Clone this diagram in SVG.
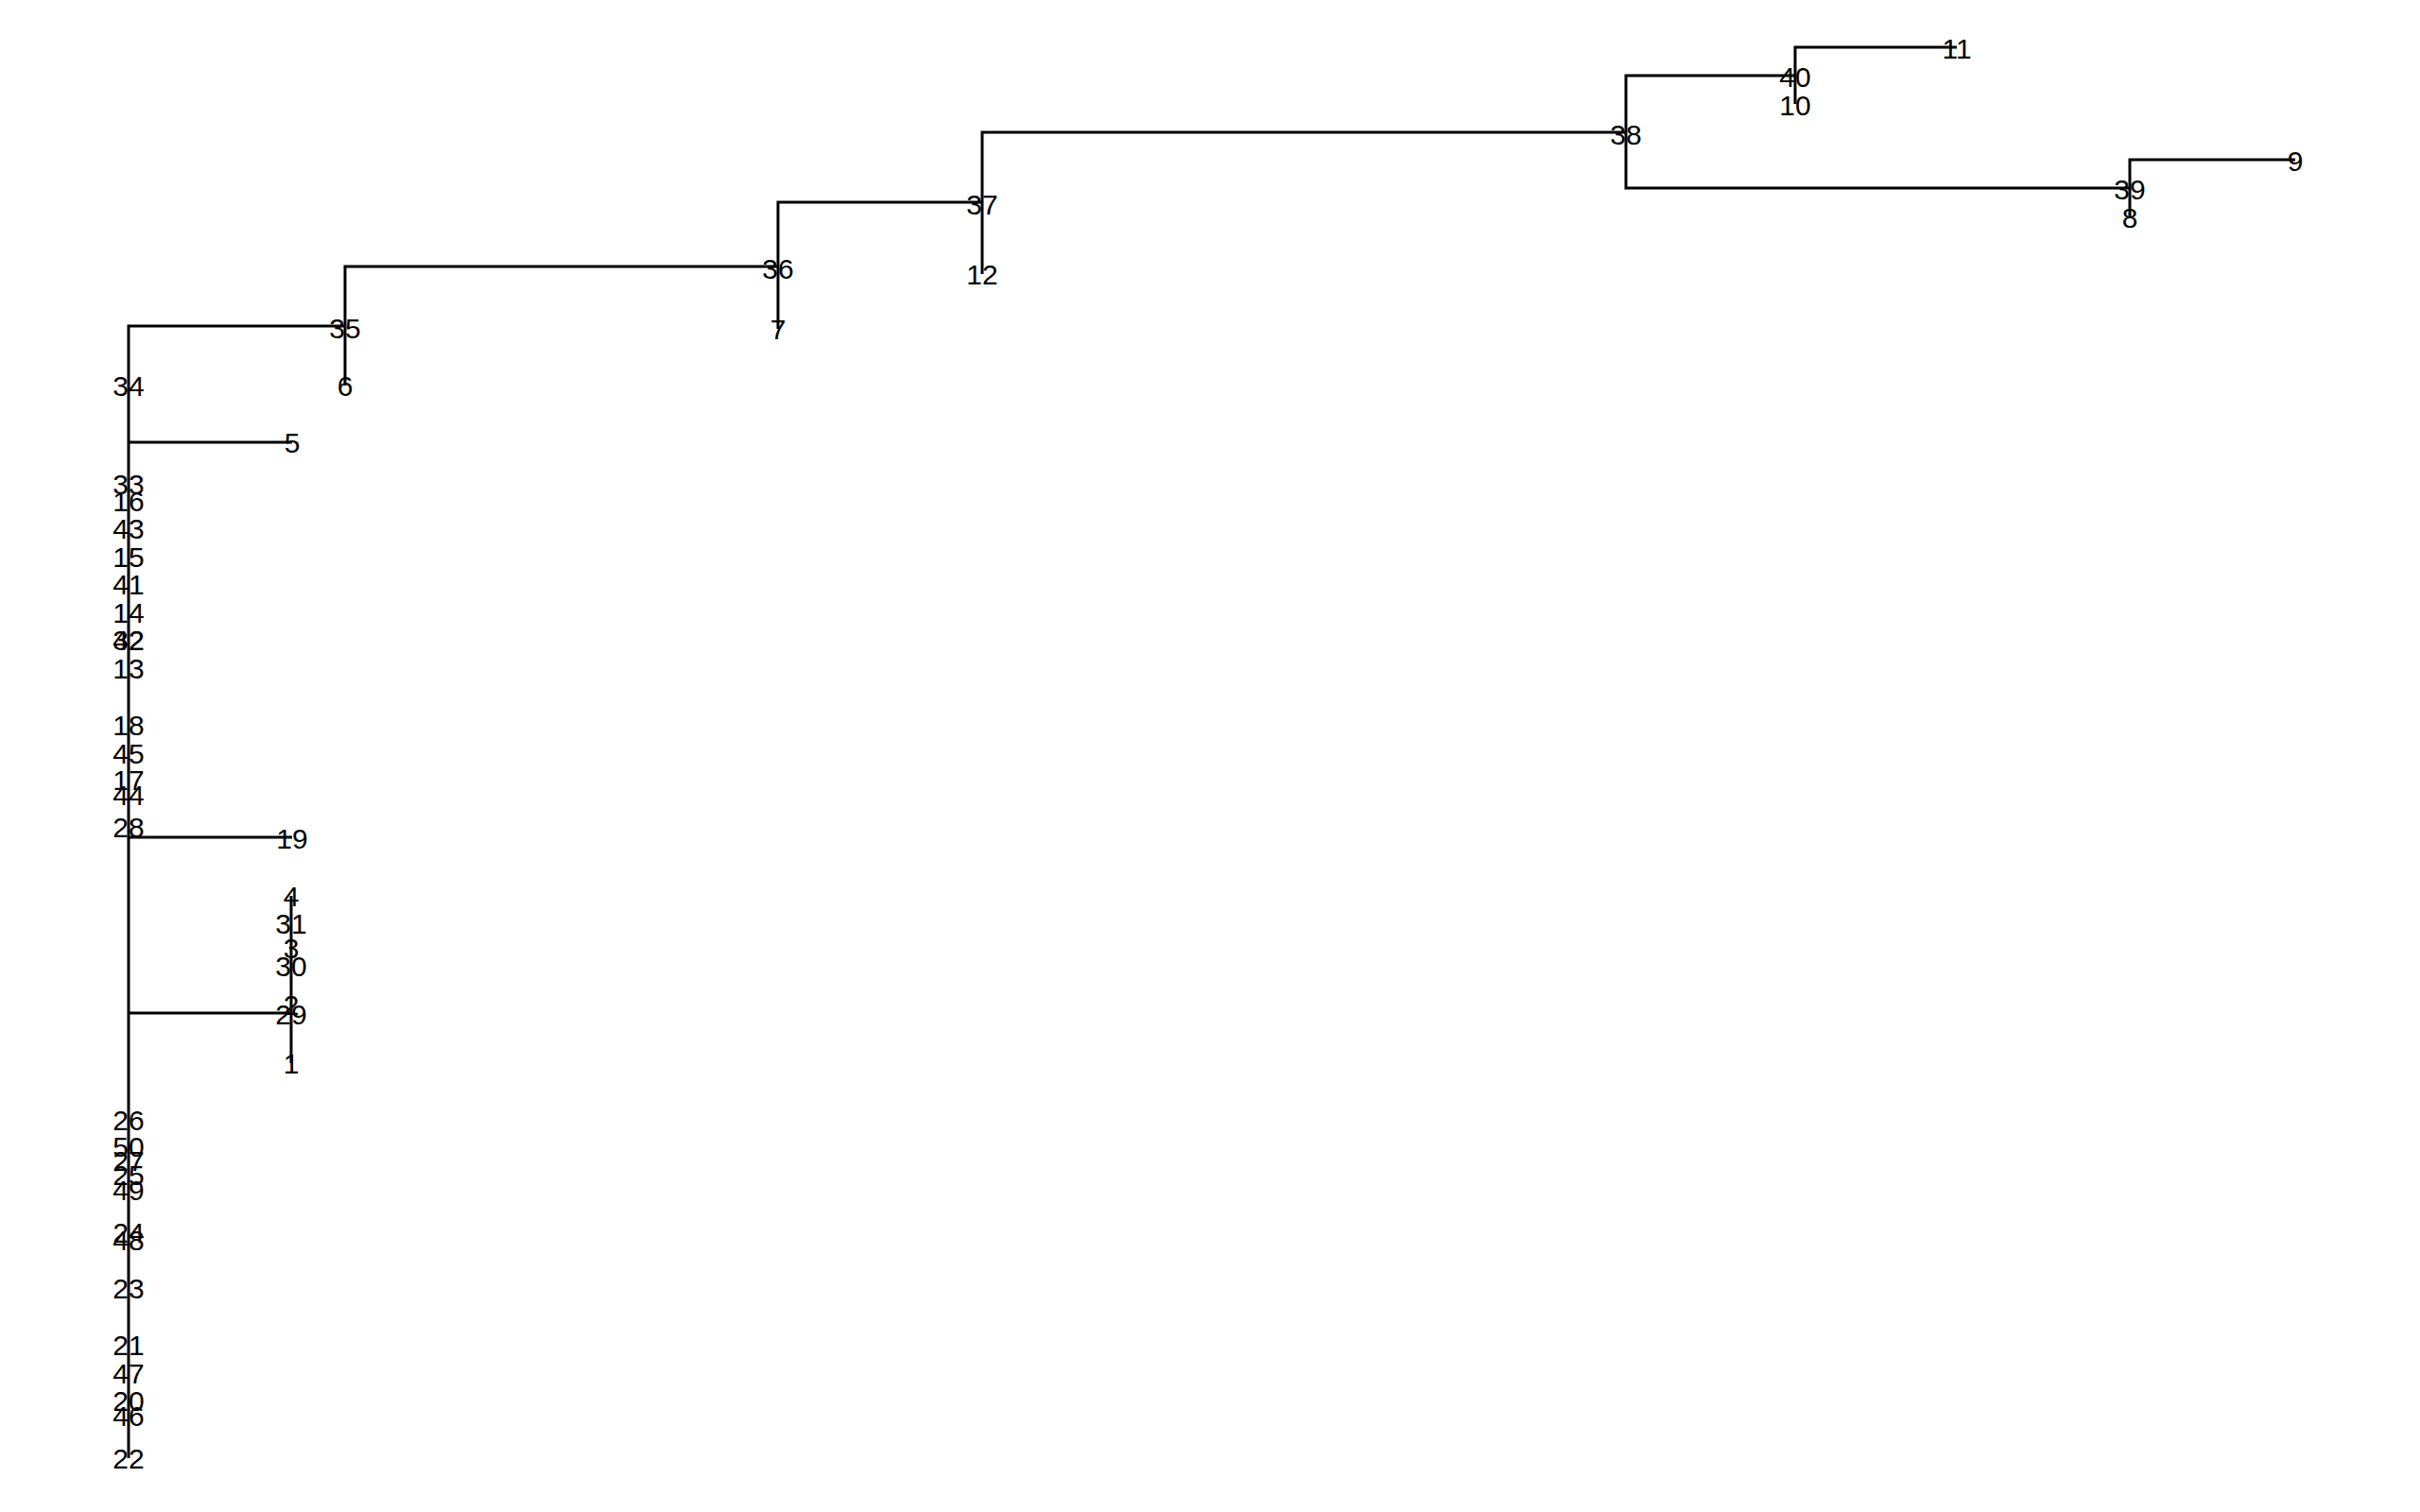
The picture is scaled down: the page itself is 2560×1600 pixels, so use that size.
<svg xmlns="http://www.w3.org/2000/svg" width="2560" height="1600" viewBox="0 0 2560 1600">
<style>
.e{fill:none;stroke:#000;stroke-width:3;stroke-linecap:butt;stroke-linejoin:miter}
text{font-family:"Liberation Sans",Arial,sans-serif;font-size:30px;fill:#000;text-anchor:middle;dominant-baseline:central}
</style>
<rect width="2560" height="1600" fill="#fff"/>
<g id="connectors">
<path class="e" d="M1899,110 V50 H2070"/>
<path class="e" d="M1720,140 V80 H1899"/>
<path class="e" d="M1720,140 V199 H2253"/>
<path class="e" d="M2253,229 V169 H2428"/>
<path class="e" d="M1039,290 V140 H1720"/>
<path class="e" d="M823,348 V214 H1039"/>
<path class="e" d="M365,408 V282 H823"/>
<path class="e" d="M136,1543 V345 H365"/>
<path class="e" d="M136,468 H309"/>
<path class="e" d="M136,886 H309"/>
<path class="e" d="M136,1072 H308"/>
<path class="e" d="M308,948 V1125"/>
</g>
<g id="n11"><text x="2070" y="51">11</text></g>
<g id="n40"><text x="1899" y="81">40</text></g>
<g id="n10"><text x="1899" y="111">10</text></g>
<g id="n38"><text x="1720" y="142">38</text></g>
<g id="n9"><text x="2428" y="170">9</text></g>
<g id="n39"><text x="2253" y="200">39</text></g>
<g id="n8"><text x="2253" y="230">8</text></g>
<g id="n37"><text x="1039" y="216">37</text></g>
<g id="n12"><text x="1039" y="290">12</text></g>
<g id="n36"><text x="823" y="284">36</text></g>
<g id="n7"><text x="823" y="348">7</text></g>
<g id="n35"><text x="365" y="347">35</text></g>
<g id="n6"><text x="365" y="408">6</text></g>
<g id="n34"><text x="136" y="408">34</text></g>
<g id="n5"><text x="309" y="468">5</text></g>
<g id="n33"><text x="136" y="512">33</text></g>
<g id="n16"><text x="136" y="530">16</text></g>
<g id="n43"><text x="136" y="559">43</text></g>
<g id="n15"><text x="136" y="589">15</text></g>
<g id="n41"><text x="136" y="618">41</text></g>
<g id="n14"><text x="136" y="648">14</text></g>
<g id="n42"><text x="136" y="677">42</text></g>
<g id="n32"><text x="136" y="677">32</text></g>
<g id="n13"><text x="136" y="707">13</text></g>
<g id="n18"><text x="136" y="767">18</text></g>
<g id="n45"><text x="136" y="797">45</text></g>
<g id="n17"><text x="136" y="825">17</text></g>
<g id="n44"><text x="136" y="841">44</text></g>
<g id="n28"><text x="136" y="875">28</text></g>
<g id="n19"><text x="309" y="887">19</text></g>
<g id="n4"><text x="308" y="948">4</text></g>
<g id="n31"><text x="308" y="977">31</text></g>
<g id="n3"><text x="308" y="1003">3</text></g>
<g id="n30"><text x="308" y="1022">30</text></g>
<g id="n2"><text x="308" y="1063">2</text></g>
<g id="n29"><text x="308" y="1073">29</text></g>
<g id="n1"><text x="308" y="1125">1</text></g>
<g id="n26"><text x="136" y="1185">26</text></g>
<g id="n50"><text x="136" y="1213">50</text></g>
<g id="n27"><text x="136" y="1228">27</text></g>
<g id="n25"><text x="136" y="1243">25</text></g>
<g id="n49"><text x="136" y="1259">49</text></g>
<g id="n24"><text x="136" y="1304">24</text></g>
<g id="n48"><text x="136" y="1312">48</text></g>
<g id="n23"><text x="136" y="1363">23</text></g>
<g id="n21"><text x="136" y="1423">21</text></g>
<g id="n47"><text x="136" y="1453">47</text></g>
<g id="n20"><text x="136" y="1482">20</text></g>
<g id="n46"><text x="136" y="1498">46</text></g>
<g id="n22"><text x="136" y="1543">22</text></g>
</svg>
